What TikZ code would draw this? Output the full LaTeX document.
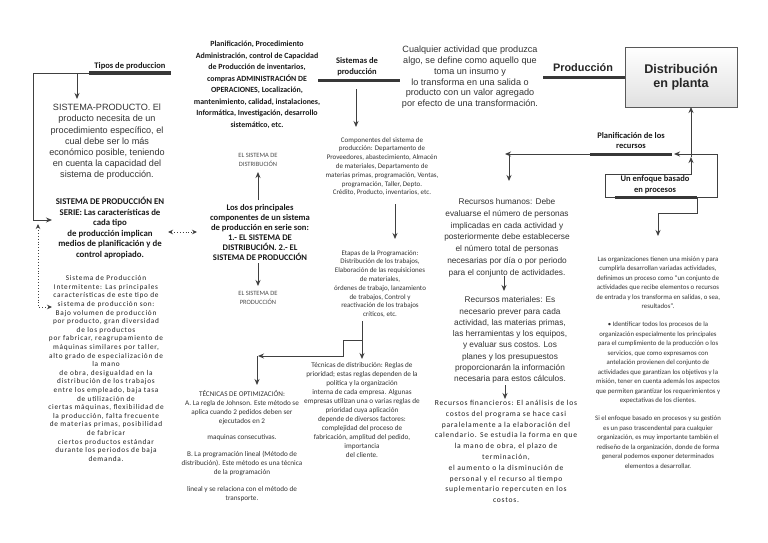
\documentclass[tikz,border=0pt]{standalone}
\usepackage{fontspec}
\setmainfont{Carlito}
\newfontfamily\arial{Liberation Sans}
\newfontfamily\carlsp[LetterSpace=10]{Carlito}
\usetikzlibrary{arrows.meta}
\newcommand\myfs[2]{\fontsize{#1}{#2}\selectfont}
\begin{document}
\begin{tikzpicture}[x=1pt,y=-1pt,
  txt/.style={inner sep=0pt, align=center, text=black!80},
  ln/.style={draw=black!75, line width=0.9pt},
  heavy/.style={draw=black!78, line width=3pt},
  arr/.style={ln, -{Stealth[length=6pt,width=5pt]}},
  dotarr/.style={ln, dotted, {Stealth[length=5pt,width=4.5pt]}-{Stealth[length=5pt,width=4.5pt]}}]
\fill[white] (0,0) rectangle (768,543);
\useasboundingbox (0,0) rectangle (768,543);

% ---------------- text nodes ----------------
\node[txt, font=\bfseries\myfs{8.5}{10}, text=black!90] (tipos) at (130,66) {Tipos de produccion};

\node[txt, anchor=north, font=\arial\myfs{9.1}{11.2}] (sisprod) at (107,104)
 {SISTEMA-PRODUCTO. El\\producto necesita de un\\procedimiento específico, el\\cual debe ser lo más\\económico posible, teniendo\\en cuenta la capacidad del\\sistema de producción.};

\node[txt, anchor=north, font=\bfseries\myfs{7.9}{11.5}, text=black!90] (planif) at (257,41)
 {Planificación, Procedimiento\\Administración, control de Capacidad\\de Producción de inventarios,\\compras ADMINISTRACIÓN DE\\OPERACIONES, Localización,\\mantenimiento, calidad, instalaciones,\\Informática, Investigación, desarrollo\\sistemático, etc.};

\node[txt, anchor=north, font=\bfseries\myfs{8.5}{11}, text=black!90] (sistemas) at (357,57) {Sistemas de\\producción};

\node[txt, anchor=north, font=\arial\myfs{9.1}{10.8}] (cualq) at (470,46)
 {Cualquier actividad que produzca\\algo, se define como aquello que\\toma un insumo y\\lo transforma en una salida o\\producto con un valor agregado\\por efecto de una transformación.};

\node[txt, font=\arial\bfseries\myfs{10.9}{13}, text=black!85] (prod) at (583,68) {Producción};

\node[draw=black!65, line width=0.6pt, top color=white, bottom color=black!12,
      minimum width=112pt, minimum height=60pt, inner sep=0pt, align=center,
      font=\arial\bfseries\myfs{12.6}{14.5}, text=black!85] (dist) at (681,77) {Distribución\\en planta};

\node[txt, anchor=north, font=\bfseries\myfs{8.5}{10.5}, text=black!90] (planrec) at (631,132) {Planificación de los\\recursos};
\node[txt, anchor=north, font=\bfseries\myfs{8.5}{11}, text=black!90] (enfoque) at (655,175) {Un enfoque basado\\en procesos};

\node[txt, anchor=north, font=\myfs{6.8}{9.5}] (orgs) at (658,256.5)
 {Las organizaciones tienen una misión y para\\cumplirla desarrollan variadas actividades,\\definimos un proceso como “un conjunto de\\actividades que recibe elementos o recursos\\de entrada y los transforma en salidas, o sea,\\resultados”.\\[8.5pt]• Identificar todos los procesos de la\\organización especialmente los principales\\para el cumplimiento de la producción o los\\servicios, que como expresamos con\\antelación provienen del conjunto de\\actividades que garantizan los objetivos y la\\misión, tener en cuenta además los aspectos\\que permiten garantizar los requerimientos y\\expectativas de los clientes.\\[8.5pt]Si el enfoque basado en procesos y su gestión\\es un paso trascendental para cualquier\\organización, es muy importante también el\\rediseño de la organización, donde de forma\\general podemos exponer determinados\\elementos a desarrollar.};

\node[txt, anchor=north, font=\arial\myfs{8.3}{11.9}] (rhum) at (507,198)
 {Recursos humanos: Debe\\evaluarse el número de personas\\implicadas en cada actividad y\\posteriormente debe establecerse\\el número total de personas\\necesarias por día o por periodo\\para el conjunto de actividades.};

\node[txt, anchor=north, font=\arial\myfs{8.3}{11.3}] (rmat) at (510,296.5)
 {Recursos materiales: Es\\necesario prever para cada\\actividad, las materias primas,\\las herramientas y los equipos,\\y evaluar sus costos. Los\\planes y los presupuestos\\proporcionarán la información\\necesaria para estos cálculos.};

\node[txt, anchor=north, font=\carlsp\myfs{7.6}{10.8}, text=black!88] (rfin) at (506,400)
 {Recursos financieros: El análisis de los\\costos del programa se hace casi\\paralelamente a la elaboración del\\calendario. Se estudia la forma en que\\la mano de obra, el plazo de\\terminación,\\el aumento o la disminución de\\personal y el recurso al tiempo\\suplementario repercuten en los\\costos.};

\node[txt, anchor=north, font=\bfseries\myfs{8.8}{10.6}, text=black!90] (serie) at (110,197)
 {SISTEMA DE PRODUCCIÓN EN\\SERIE: Las características de\\cada tipo\\de producción implican\\medios de planificación y de\\control apropiado.};

\node[txt, anchor=north, font=\carlsp\myfs{7.3}{8.6}, text=black!88] (interm) at (106,275.5)
 {Sistema de Producción\\Intermitente: Las principales\\características de este tipo de\\sistema de producción son:\\Bajo volumen de producción\\por producto, gran diversidad\\de los productos\\por fabricar, reagrupamiento de\\máquinas similares por taller,\\alto grado de especialización de\\la mano\\de obra, desigualdad en la\\distribución de los trabajos\\entre los empleado, baja tasa\\de utilización de\\ciertas máquinas, flexibilidad de\\la producción, falta frecuente\\de materias primas, posibilidad\\de fabricar\\ciertos productos estándar\\durante los periodos de baja\\demanda.};

\node[txt, anchor=north, font=\bfseries\myfs{8.6}{10}, text=black!90] (dosprin) at (260,204)
 {Los dos principales\\componentes de un sistema\\de producción en serie son:\\1.- EL SISTEMA DE\\DISTRIBUCIÓN. 2.- EL\\SISTEMA DE PRODUCCIÓN};

\node[txt, anchor=north, font=\myfs{6.5}{9}, text=black!70] (sdist) at (258,153.5) {EL SISTEMA DE\\DISTRIBUCIÓN};
\node[txt, anchor=north, font=\myfs{6.5}{9}, text=black!70] (sprodn) at (258,291.5) {EL SISTEMA DE\\PRODUCCIÓN};

\node[txt, anchor=north, font=\myfs{7}{8.8}] (comp) at (382,137)
 {Componentes del sistema de\\producción: Departamento de\\Proveedores, abastecimiento, Almacén\\de materiales, Departamento de\\materias primas, programación, Ventas,\\programación, Taller, Depto.\\Crédito, Producto, inventarios, etc.};

\node[txt, anchor=north, font=\myfs{7}{8.8}] (etapas) at (380,250)
 {Etapas de la Programación:\\Distribución de los trabajos,\\Elaboración de las requisiciones\\de materiales,\\órdenes de trabajo, lanzamiento\\de trabajos, Control y\\reactivación de los trabajos\\críticos, etc.};

\node[txt, anchor=north, font=\myfs{7.2}{9}] (tecdist) at (362,362)
 {Técnicas de distribución: Reglas de\\prioridad; estas reglas dependen de la\\política y la organización\\interna de cada empresa. Algunas\\empresas utilizan una o varias reglas de\\prioridad cuya aplicación\\depende de diversos factores:\\complejidad del proceso de\\fabricación, amplitud del pedido,\\importancia\\del cliente.};

\node[txt, anchor=north, font=\myfs{7.2}{9}] (tecopt) at (242,390)
 {TÉCNICAS DE OPTIMIZACIÓN:\\A. La regla de Johnson. Este método se\\aplica cuando 2 pedidos deben ser\\ejecutados en 2\\[7pt]maquinas consecutivas.\\[8pt]B. La programación lineal (Método de\\distribución). Este método es una técnica\\de la programación\\[8pt]lineal y se relaciona con el método de\\transporte.};

% ---------------- coordinates ----------------
\coordinate (tA) at (89,73);   \coordinate (tB) at (171,73);
\coordinate (tL) at (33,73);   \coordinate (tLd) at (33,220); \coordinate (serieIn) at (52,220);
\coordinate (t77) at (77,73);  \coordinate (spIn) at (77,99);
\coordinate (dT) at (38,224);  \coordinate (dB) at (38,307);  \coordinate (intIn) at (52,307);
\coordinate (dbL) at (168,232); \coordinate (dbR) at (197,232);
\coordinate (sdUp0) at (258,200); \coordinate (sdUp1) at (258,172);
\coordinate (spDn0) at (258,263); \coordinate (spDn1) at (258,286);
\coordinate (sA) at (318,80);  \coordinate (sB) at (400,80);
\coordinate (sDn0) at (356,89); \coordinate (sDn1) at (356,127);
\coordinate (cDn0) at (395,204); \coordinate (cDn1) at (395,239);
\coordinate (eDn0) at (362,321); \coordinate (eDn1) at (362,359);
\coordinate (eBr) at (362,340); \coordinate (eSt) at (343,340); \coordinate (eSt2) at (343,356);
\coordinate (eL) at (258,356); \coordinate (eL2) at (257,356); \coordinate (eL3) at (257,385);
\coordinate (pA) at (543,77);  \coordinate (pB) at (625,77);
\coordinate (rA) at (590,154); \coordinate (rB) at (672,154);
\coordinate (rL) at (505,154); \coordinate (rL2) at (509,154); \coordinate (rL3) at (509,181);
\coordinate (uA) at (615,197); \coordinate (uB) at (697,197);
\coordinate (lp1) at (717,197); \coordinate (lp2) at (717,154); \coordinate (lp3) at (674,154);
\coordinate (bx1) at (605,197); \coordinate (bx2) at (605,174); \coordinate (bx3) at (691,174);
\coordinate (bxm) at (691,157); \coordinate (bxT) at (691,107);
\coordinate (od1) at (697,213); \coordinate (od2) at (658,213); \coordinate (od3) at (658,236);
\coordinate (h0) at (504,276); \coordinate (h1) at (504,291);
\coordinate (m0) at (505,385); \coordinate (m1) at (505,399);

% ---------------- connectors ----------------
\draw[heavy] (tA) -- (tB);
\draw[arr] (tA) -- (tL) -- (tLd) -- (serieIn);
\draw[arr] (t77) -- (spIn);
\draw[dotarr] (dT) -- (dB) -- (intIn);
\draw[dotarr] (dbL) -- (dbR);
\draw[arr] (sdUp0) -- (sdUp1);
\draw[arr] (spDn0) -- (spDn1);
\draw[heavy] (sA) -- (sB);
\draw[arr] (sDn0) -- (sDn1);
\draw[arr] (cDn0) -- (cDn1);
\draw[arr] (eDn0) -- (eDn1);
\draw[arr] (eBr) -- (eSt) -- (eSt2) -- (eL);
\draw[arr] (eL2) -- (eL3);
\draw[heavy] (pA) -- (pB);
\draw[heavy] (rA) -- (rB);
\draw[arr] (rA) -- (rL);
\draw[arr] (rL2) -- (rL3);
\draw[heavy] (uA) -- (uB);
\draw[arr] (uB) -- (lp1) -- (lp2) -- (lp3);
\draw[arr] (uA) -- (bx1) -- (bx2) -- (bx3) -- (bxm);
\draw[arr] (bxm) -- (bxT);
\draw[arr] (uB) -- (od1) -- (od2) -- (od3);
\draw[arr] (h0) -- (h1);
\draw[arr] (m0) -- (m1);
\end{tikzpicture}
\end{document}
